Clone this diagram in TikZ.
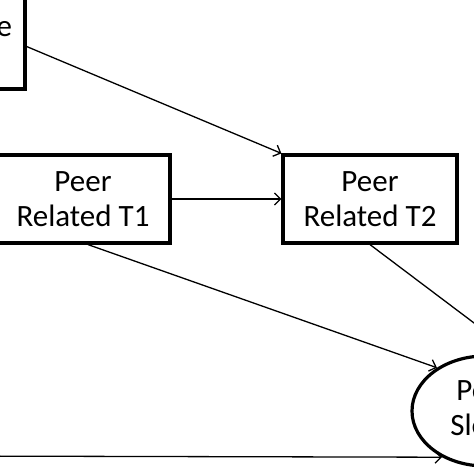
\documentclass[tikz,border=0pt]{standalone}
\usepackage{fontspec}
\setmainfont{Carlito}
\usetikzlibrary{arrows.meta,shapes.geometric}
\begin{document}
\begin{tikzpicture}[x=1pt,y=-1pt,
  box/.style={draw=black,line width=3.2pt,rectangle,inner sep=0pt,
    font=\fontsize{31}{35}\selectfont,align=center},
  oval/.style={draw=black,line width=3.2pt,ellipse,inner sep=0pt,
    font=\fontsize{31}{35}\selectfont,align=center},
  conn/.style={line width=1.3pt,-{Straight Barb[length=6pt,width=12pt,line width=1.3pt]}}]
\useasboundingbox (0,0) rectangle (474,474);
\fill[white] (0,0) rectangle (474,474);
\clip (0,0) rectangle (474,474);
\node[box,minimum width=125pt,minimum height=119pt,text width=99pt,align=right] (top) at (-37.5,29.5) {e};
\node[box,minimum width=174pt,minimum height=88pt] (T1) at (83,199) {Peer\\Related T1};
\node[box,minimum width=174pt,minimum height=88pt] (T2) at (370,199) {Peer\\Related T2};
\node[oval,minimum width=146pt,minimum height=110pt] (E) at (485,411) {Peer\\Slope};
\coordinate (src) at (-60,456);
\draw[conn] ([yshift=-17pt]top.east) -- (T2.north west);
\draw[conn] (T1.east) -- (T2.west);
\draw[conn] ([xshift=5pt]T1.south) -- (E.138);
\draw[conn] (T2.south) -- (E.north east);
\draw[conn] (src) -- (E.227);
\end{tikzpicture}
\end{document}
